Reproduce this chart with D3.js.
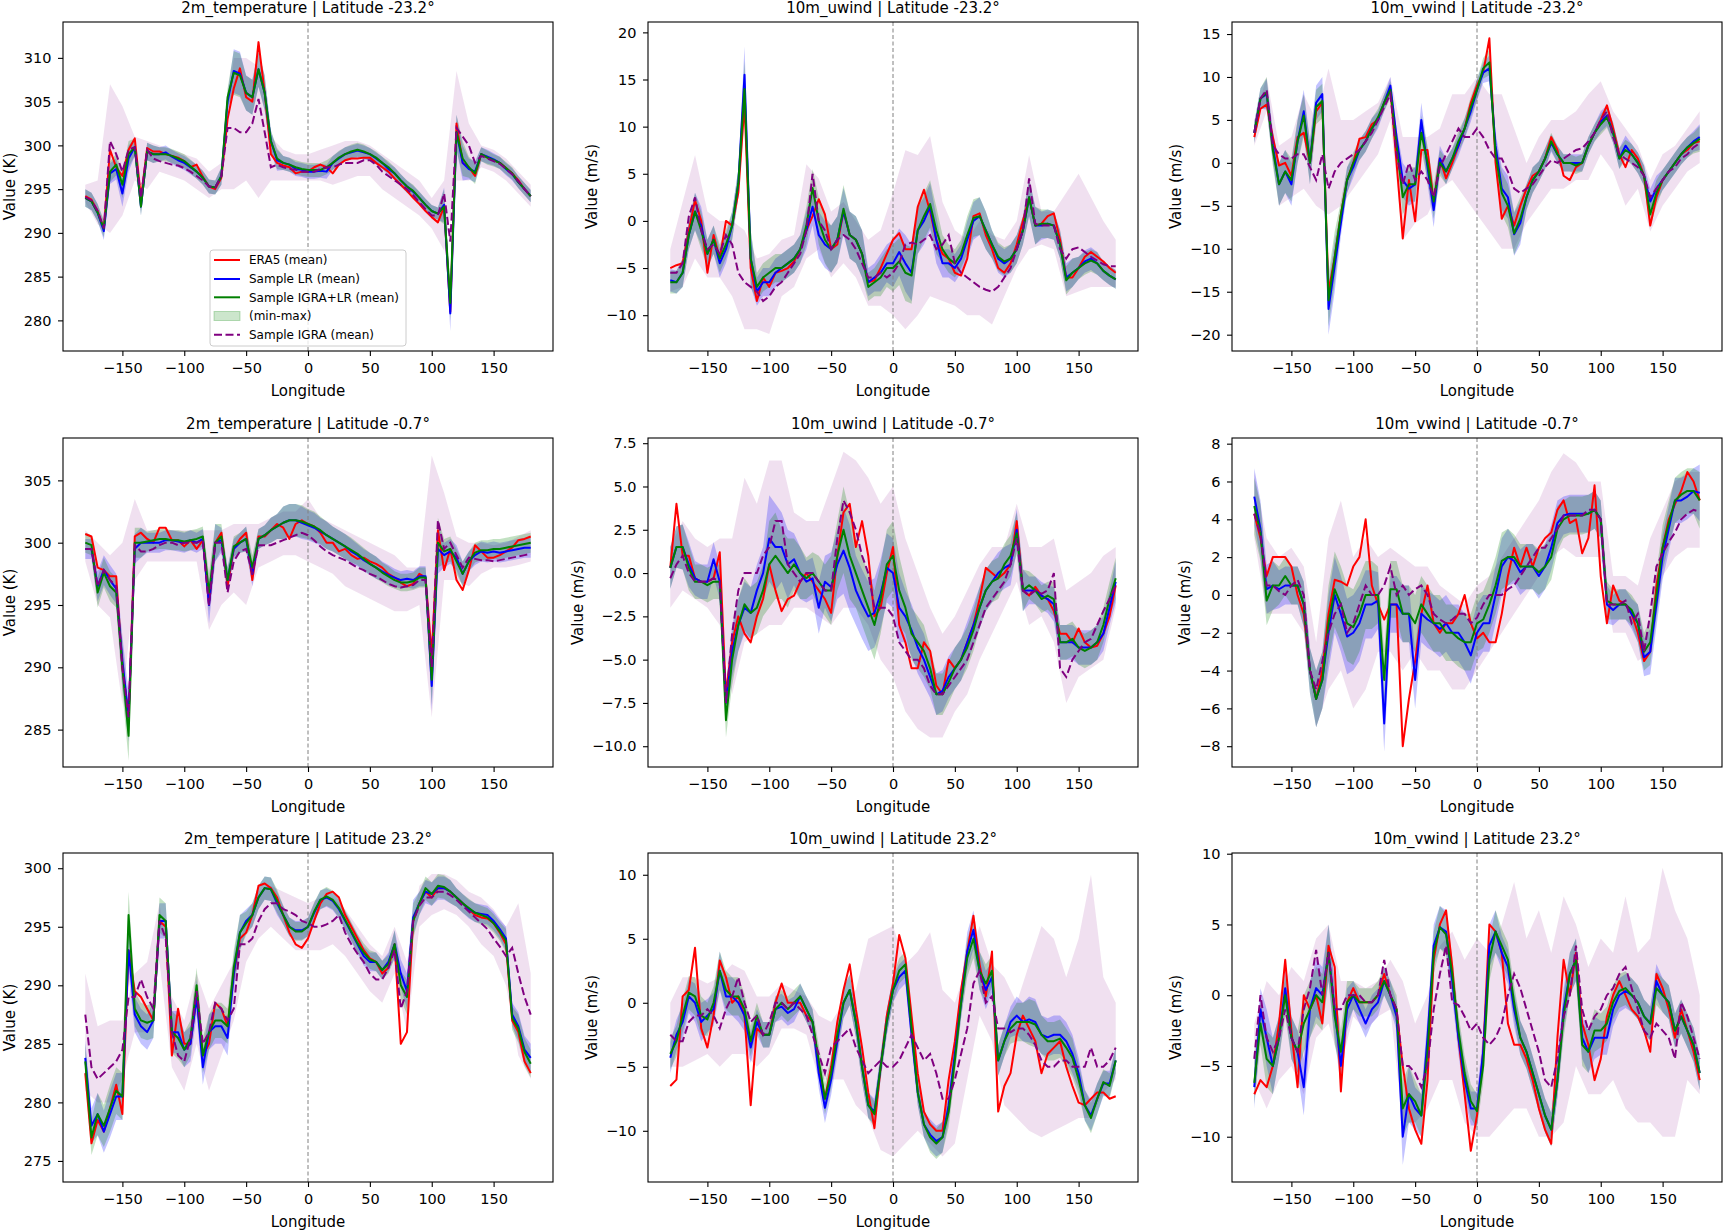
<!DOCTYPE html>
<html><head><meta charset="utf-8">
<script src="https://cdn.jsdelivr.net/npm/d3@7"></script>
<style>
body{margin:0;background:#fff}
svg{display:block}
text{font-family:"DejaVu Sans",sans-serif;fill:#000}
</style>
</head><body>
<svg id="c" width="1724" height="1232"></svg>
<script>
// ---------- categories (longitude) ----------
const LON = [-180,-175,-170,-165,-160,-155,-150,-145,-140,-135,
 -130,-125,-120,-115,-110,-105,-100,-95,-90,-85,
 -80,-75,-70,-65,-60,-55,-50,-45,-40,-35,
 -30,-25,-20,-15,-10,-5,0,5,10,15,
 20,25,30,35,40,45,50,55,60,65,
 70,75,80,85,90,95,100,105,110,115,
 120,125,130,135,140,145,150,155,160,165,
 170,175,180];
const LON10 = [-180,-170,-160,-150,-140,-130,-120,-110,-100,-90,-80,-70,-60,-50,-40,-30,-20,-10,0,
 10,20,30,40,50,60,70,80,90,100,110,120,130,140,150,160,170,180];

// ---------- 2m_temperature | Latitude -23.2 ----------
const tS_era5 = [294.2,293.8,292.5,290.5,299.5,297.5,296.5,299.5,300.8,294,
 299.7,299.3,299.3,299,298.8,298.6,298.2,297.5,297.8,296.4,
 295.3,295,296.3,303,306.5,308.8,305.5,305,311.8,306,
 299,298,297.7,297.5,296.8,297,297,297.5,297.8,297.5,
 296.8,297.8,298.3,298.5,298.5,298.6,298.6,298,297.5,297,
 296.2,295.5,294.8,294,293.3,292.5,291.8,291.2,293,281,
 302.5,298,297.5,296.5,299,298.6,298.3,298,297.4,296.8,
 296,295,294.2];
const tS_lr = [294,293.6,292.3,290.2,296.8,297.3,294.5,298.5,299.8,293,
 299.3,299,299,299.2,298.7,298.3,298,297.5,297,296.3,
 295.3,295.2,296.5,305,308.5,308.2,306,305.5,308.7,306,
 300.5,298.3,298,297.8,297.3,297.2,297,297,297.1,297,
 298,298.5,299,299.2,299.4,299.2,299,298.5,298,297.3,
 296.8,296,295.3,294.7,294,293.2,292.5,292.2,293.2,280.8,
 301.5,298,297.3,297,299,298.7,298.4,298,297.3,296.7,
 295.8,295,294.2];
const tS_mix = [294,293.6,292.3,290.5,297,297.8,295.5,299,299.8,293,
 299.3,299,299,299,298.8,298.5,298.2,297.6,297,296.3,
 295.3,295.2,296.5,305.5,308.3,308,306,305.5,308.7,306,
 300.5,298.5,298,297.8,297.5,297.3,297.2,297.2,297.2,297.5,
 298,298.6,299,299.3,299.5,299.3,299,298.6,298,297.5,
 296.8,296,295.3,294.8,294,293.2,292.5,292.2,293,282,
 301.5,298.5,297.5,296.8,299,298.6,298.3,298,297.4,296.8,
 295.8,295,294.2];
const tS_igra = [294.1,293.7,292.5,290.5,300.5,299,297,299.5,299.8,294,
 299.5,298.5,298.2,298,297.8,297.7,297.4,297,296.5,296,
 295.3,295.2,296.5,302,302,301.5,301.5,302.5,305.3,301.5,
 297.5,297.8,297.5,297.3,297.2,297,297,297,297.3,297.5,
 297.5,297.8,298,298,298,298.3,298.3,297.8,297,296.5,
 296,295.5,295,294.3,293.5,292.7,292,292,294.5,289,
 302,301,300,298,298.8,298.5,298.2,297.9,297.3,296.7,
 295.9,295,294.2];
const tS_spread = [1,1,1.2,1.5,1,1,0.8,0.8,0.8,0.8,0.8,1,2.5,2,2,1.2,0.8,0.8,0.8,0.8,0.8,0.8,0.8,0.7,0.7,0.7,0.7,0.7,0.7,2,2,1.2,0.8,0.7,0.7,0.7,0.7];
const tS_igLo = [293.5,291,290,292,296,295,297,296.5,296,295,294,295,295,296,294,296,296,296,296,296,295.5,296,296.5,296.5,295,294,293,292,290.5,288,296,296,297.5,297,296,294.5,293];
const tS_igHi = [295.5,296,307,304.5,301,300.5,300,299.5,299,298.5,297,298,310,310,309,301,299.5,299,299,299.5,300,300.5,300.5,300,299,298,297,296,294,296,308.5,302.5,300,299.5,298.5,297,295.5];

// ---------- 10m_uwind | Latitude -23.2 ----------
const uS_era5 = [-5,-4.7,-4.5,-1,2.2,0,-5.5,-1.5,-4,0,
 -0.5,3,12.5,-5,-8.5,-6,-7,-5.5,-5.3,-5,
 -4.3,-3,-1,0.5,2.3,0.7,-3,-2.5,1,-1.5,
 -2,-3.5,-6.5,-6.3,-5,-3.5,-2,-1.3,-3,-3,
 1.5,3.3,1,-2,-3.5,-4,-5.5,-5.8,-4,0.5,
 0.8,-1.5,-3,-5,-5.5,-4.5,-2.5,0,2.5,-0.5,
 -0.3,0.5,0.8,-2,-6,-6,-5,-3.8,-3.3,-3.8,
 -4.3,-5,-5.5];
const uS_lr = [-6.3,-6.5,-5.5,-1.5,1,-0.5,-3.5,-2,-4.5,-3,
 -0.5,4,15.5,-4,-7.5,-6.5,-6.5,-5.5,-5,-4.5,
 -4,-3,-1,1.5,-1.5,-2.5,-3,-2,1,-1.5,
 -2,-3.5,-6.5,-6,-5.5,-4.5,-4.5,-3.3,-4.5,-5.5,
 -1,0,1.5,-2,-4.5,-4.5,-5,-4,-2,0,
 0.5,-1,-2.5,-4,-4.5,-4,-3,-1,2.5,-0.5,
 -0.5,-0.3,-0.5,-2.5,-6,-5.5,-5,-4.3,-4,-4.5,
 -5.3,-5.8,-6.2];
const uS_mix = [-6.5,-6.5,-5.5,-1.5,1,-1,-3.5,-2,-4,-2.5,
 -0.5,4,14,-4,-7,-6,-5.5,-5,-5,-4.5,
 -4,-3,-0.5,3.5,0,-2,-3,-2,1.3,-1.5,
 -2,-3.5,-7,-6.5,-6,-5,-5,-4.3,-5.5,-5.8,
 -1,0.5,1.8,-1,-3,-4,-4.5,-3.5,-1.5,0.3,
 0.5,-1,-2.5,-3.8,-4.3,-4,-3,-1,2.5,-0.5,
 -0.3,-0.3,-0.5,-2.5,-6.3,-5.5,-5,-4.5,-4.2,-4.5,
 -5.3,-5.8,-6.2];
const uS_igra = [-5.5,-5.5,-4.5,0.5,2.5,-1,-3,-2.5,-3.5,-1.5,
 -2.5,-5.5,-6.5,-7,-7.5,-8.5,-8,-7,-6.5,-5.5,
 -4.5,-3.5,-1,5,0,-1,-3,-2,-1.5,-2,
 -3,-4.5,-6,-6,-5.5,-6,-5.5,-4.5,-2.5,-2.3,
 -2.5,-2,-1.5,-3,-2.5,-1.5,-4.5,-5.5,-6,-6.5,
 -7,-7.3,-7.5,-7,-6,-5,-3,-1,4.5,-0.3,
 -0.5,-0.5,-0.5,-3,-4,-3,-2.8,-3.3,-3.8,-4.2,
 -4.6,-4.8,-4.8];
const uS_spread = [1.2,1.5,2,1.5,1.5,1.5,3,1.5,1.5,1.5,1.5,2,2.5,2.5,2.5,2.5,1.5,2,2.5,3,2.5,2.5,1.5,1.5,2,2,1.5,1.5,1.5,2,1.5,1.5,1.5,1.2,1.2,1,1];
const uS_igLo = [-7.5,-7,-4,-6,-6,-8,-11.5,-11.5,-12,-8,-7,-4,-3,-6,-4.5,-6,-9,-9,-10,-11.5,-10,-8,-8.5,-9,-10,-10,-11,-8,-5,-3,-2.5,-3,-8,-7.5,-7,-7,-7];
const uS_igHi = [-3,2,7,1,0,0,-1,-4,-3.5,-2,-1.5,6,4.5,1,2,0,-2,-1,3,7.5,7,9,2,-1,-2,0,-1.5,-2,0,7,1,1,3,5,2.5,0,-2];

// ---------- 10m_vwind | Latitude -23.2 ----------
const vS_era5 = [3,6.3,6.8,3,-0.3,0,-1.5,3,3.5,0,
 6,7,-15,-11,-6,-2,0,2.8,3,4.5,
 5,7,8.5,0,-8.8,-2,-6.8,1.5,1.5,-4.5,
 0.5,-1.8,0,2,4,7,9,10.5,14.5,0,
 -6.5,-5,-7.3,-5,-3,-1.5,-1,0.5,3,1.5,
 -1.5,-2,-0.5,0,2,3.5,5,6.7,4,1,
 -0.5,1.5,0.5,-1.5,-7.3,-4,-2,-1,0,1,
 1.5,2.3,2.5];
const vS_lr = [3.5,7.5,8,2,-2.5,-1,-2.5,2.5,6,0,
 7,8,-17,-12,-7,-2,-0.5,1.5,2.5,4,
 5,7,9,3,-2,-3,-2.5,5,-0.5,-5.5,
 0.5,-1,0.5,2,4,6,8.5,10.5,11,2,
 -3,-4,-8.3,-7,-4,-2,-1,0.5,2.3,1,
 0,0,0,0,2,3.5,4.8,5.5,3.5,0.5,
 2,1,0,-1.5,-4.5,-3,-2,-1,0,1,
 1.8,2.5,3];
const vS_mix = [3.5,7.5,8.2,1.5,-2.5,-1,-2,2.5,5.5,0,
 6.5,7.2,-16,-11,-6,-2,0,1.5,2.5,4,
 5.3,7,8.5,2,-4,-2.5,-2.5,3.5,0,-4.5,
 0,-1,0.5,2.5,4,6.5,8.5,11,11.7,1,
 -3.5,-5,-8.2,-6.5,-4,-2,-1,0.5,2.5,1,
 0,0,-0.3,0,2,3.5,4.5,5.3,3.5,0.5,
 1.5,1,0,-1.5,-6,-3.5,-2,-1,0,1,
 1.8,2.3,2.8];
const vS_igra = [3.5,7.5,8.5,2,1,0.5,0.5,1,1,-0.5,
 -2,1,-3,-1,0,0.5,1,1.5,2.5,3.5,
 5,6.5,8,1,-2.5,0,-2,-1,-2,-4,
 -0.5,1,2.5,4,3,3,4,3,1.5,0.5,
 0.5,-1,-3,-3.5,-3,-2.5,-1.5,-0.5,0.3,0,
 0.5,1,1.5,1.7,2.5,3.5,5,6,3,1,
 0.5,0,-0.5,-1.5,-4,-3,-2,-1,-0.5,0.5,
 1,1.8,2.3];
const vS_spread = [1.2,1.8,2.5,2.5,2.5,2,3,1.5,1.2,1.2,1,1,2,2,2,1.5,1.2,1.2,1.2,1.5,2.5,2.5,1.5,1.2,1,1,1,1,1.2,1.2,1.2,1.2,1.5,1.2,1.2,1.2,1.5];
const vS_igLo = [2,6,-5,-4,-3,-5,-6,-5,-3,-1,1,5,-9,-7,-6,-3,-2,-4,-6,-8,-10,-10,-7,-5,-3,-3,-2,-2,1,-1,-5,-3,-8,-5,-3,-1,0];
const vS_igHi = [5,10,2,3,8,5,11,5,5,6,7,10,3,3,3,4,8,8,10,8,8,4,0,3,5,5,6,8,9.5,6,4,2,-2,1,2,4,6];

// ---------- 2m_temperature | Latitude -0.7 ----------
const tE_era5 = [300.7,300.5,298,297.8,297.3,297.3,290,286,300.5,300.8,
 300.3,300,301.2,301.2,300.2,300.2,299.7,300.2,299.5,300.2,
 295,300,300.8,296.5,299.5,300.3,300.8,297,300.5,300.5,
 301,301.5,301.2,300.3,301.5,301.8,301.5,301.3,300.8,300,
 300,299.3,299.5,299,298.7,298.8,298.5,298.3,298,297.5,
 297.2,296.8,296.5,296.7,297.5,297.2,291,301,297.8,299.5,
 297,296.2,297.8,299.8,299.3,298.8,298.8,299,299.3,299.6,
 300.2,300.3,300.5];
const tE_lr = [299.5,299.5,296.5,297.8,297,296.3,290.5,286,299.5,300,
 300,300,300,300.2,300.2,300.1,300,300.2,300,300.3,
 295,300,300.2,297,299.5,300,300.3,297.5,300.3,300.6,
 301,301.3,301.6,301.8,301.8,301.6,301.4,301.2,300.9,300.6,
 300.3,300,299.7,299.3,299,298.6,298.3,298,297.7,297.4,
 297.2,297,297.1,297,297.3,297.3,288.5,299.5,299,299.3,
 298.8,297.5,298.5,299,299.3,299.2,299.3,299.2,299.3,299.4,
 299.5,299.6,299.6];
const tE_mix = [300,299.8,296,297.6,296.5,296,290,284.5,300,300,
 300.1,300.2,300.3,300.3,300.2,300.2,300.1,300.2,300.3,300.5,
 296,300,300.5,297,299.7,300,300.3,298,300.3,300.6,
 301,301.3,301.6,301.8,301.8,301.7,301.5,301.3,301,300.6,
 300.3,300,299.7,299.4,299.1,298.7,298.3,298,297.6,297.3,
 297,296.8,296.8,296.9,297.2,297.2,289,300,299.3,299.5,
 298.5,297.5,298.5,299.2,299.4,299.4,299.5,299.5,299.6,299.7,
 299.8,299.9,300];
const tE_igra = [299.5,299.5,296.5,297.8,297,296.5,290,286,299.8,299.3,
 299.3,299.5,299.8,300,300,299.8,300,300,300,300.2,
 295,300,300,296,298.5,299.3,299.5,297.5,299.8,299.8,
 299.8,300,300.2,300.4,300.6,300.8,300.6,300.2,299.7,299.3,
 299,298.8,298.6,298.3,298,297.8,297.5,297.3,297,296.7,
 296.5,296.4,296.5,296.6,297,297,290,301.8,299.5,300,
 299,298,298.8,298.7,298.6,298.6,298.5,298.6,298.7,298.8,
 298.9,299,299.1];
const tE_spread = [0.8,1.2,1.2,2,1.2,0.8,0.8,0.8,0.8,0.8,1.5,1,0.8,1,0.8,1,1.3,1.3,1.2,1.1,1,1,0.9,0.9,0.8,0.7,0.7,0.8,2,1,1,0.8,0.8,0.8,0.8,0.8,0.8];
const tE_igLo = [298.5,295,294,287,297,298.5,298.5,298.5,298.5,298.5,293,295,296,295,298,298.5,299,299,298.5,298,297.5,296.5,296,295.5,295,294.5,294.5,295,286,297,297,296.5,297.5,298,298,298.2,298.5];
const tE_igHi = [301,300,299,300,303.5,301,301,301,301,301,301,301,301.5,301.5,301.5,302,302.5,302.5,303.5,302,301.5,301,300.5,300,299.5,299,298,298,307,304,300.5,300,300,299.8,300,300.5,301];

// ---------- 10m_uwind | Latitude -0.7 ----------
const uE_era5 = [0.3,4,1,1,-0.3,-0.5,-0.5,-0.3,1.2,-7,
 -4,-2.5,-3.5,-4,-2.5,-1.5,0.5,-1,-2.2,-1.5,
 -1.3,-0.5,0,-0.5,-1,-1.5,-2.3,1,3.5,4,
 1.5,3,1,-2.5,-2,0,1.5,-3,-4,-5.5,
 -5.5,-4,-4.5,-6.5,-7,-5,-5.5,-5,-4,-3,
 -1.5,0.3,0,-0.3,0,0.5,3,-1,-1.3,-0.8,
 -1.3,-1.5,-2.2,-3.5,-3.5,-4,-3.2,-4,-4.3,-4.2,
 -3.5,-2.5,-0.7];
const uE_lr = [0.3,1.5,1.5,0.5,-0.3,-0.5,-0.5,0.8,-0.5,-7.5,
 -4.5,-3,-2,-2.3,-1,0,2,1.5,1.5,0.5,
 0.8,0,-0.5,-0.3,-2,-0.5,-0.8,0.5,1.3,0.3,
 -1,-1.8,-2.5,-2.3,-1.2,0.3,0,-2,-2.5,-3.3,
 -4.3,-5,-6,-7,-6.8,-6,-5.5,-5,-4,-3,
 -2,-1,-0.5,0,0.3,0.5,2.5,-1,-1,-1,
 -1.3,-1.5,-1.8,-4,-4,-4,-4.3,-4.3,-4.3,-4,
 -3.5,-2,-0.5];
const uE_mix = [0.3,1.5,1.5,0.3,-0.5,-0.5,-0.7,-0.5,-0.5,-8.5,
 -5,-3,-1.8,-2.3,-2,-1,0.5,1,0.5,0,
 0.5,0,-0.3,0,-0.5,-1,-1,1,2.5,1,
 0,-1,-2,-3,-1.5,0.5,1,-1,-2,-3.5,
 -4,-4.5,-5.5,-7,-7,-6.3,-5.5,-5,-4.3,-3.3,
 -2,-1,-0.5,-0.3,0.5,1,2.3,-1,-0.7,-1,
 -1.5,-1.3,-1.5,-4,-4,-3.8,-4.3,-4.5,-4.3,-4,
 -3,-1.5,-0.3];
const uE_igra = [-0.3,0.5,1,0,-0.5,-0.5,-0.5,-0.3,-0.5,-7.5,
 -3.5,-1,0,0,0,1,1.5,3,3,0.5,
 0,-0.5,0,0,-0.5,-1,-1,2,4.2,3.5,
 2.5,1,0,-2,-2,-2,-2.5,-4,-4.5,-5,
 -5,-5.5,-6.5,-7,-7,-6.5,-6,-5.5,-5,-4,
 -3,-2,-1.5,-1,-0.5,0.5,2,-1,-1.3,-1,
 -1.2,-1,0,-5.5,-6,-5,-4.5,-4,-3.8,-3,
 -2.2,-1.5,-0.7];
const uE_spread = [1.2,1.3,1,1,1,1.5,1.5,1.5,2.5,2,1.5,1.2,1.5,2,2.5,2,2,2,2,1.5,1.5,1.2,1.2,1.2,1.2,1.2,1.2,1.2,1.2,0.8,0.8,1,1,1,1,1,1.2];
const uE_igLo = [-2,-1,-1.5,-2,-3,-7,-4,-3.5,-3,-3,-2,-2,-2.5,-3,-2,-2,-3,-5,-6,-8,-9,-9.5,-9.5,-8,-7,-5,-3.5,-2,-0.5,-3,-2.5,-4,-7.5,-6,-5.5,-5,-2];
const uE_igHi = [1.5,3,2,1.5,2,2,5.5,4,6.5,6.5,3.5,3,3,5,7,6.5,5.5,4,5,2,0,-2,-3.5,-2.5,-1,0.5,1.5,1.5,4,1.5,1.5,2,-1,-0.5,0,1,1.5];

// ---------- 10m_vwind | Latitude -0.7 ----------
const vE_era5 = [4.3,3,1,2,2,2,1.5,0,-1,-4,
 -5.5,-4,-1,0.8,0.7,0.5,1.5,2,4,0.5,
 -0.5,-1.3,-0.5,-0.5,-8,-5.5,-3.5,-1,0.5,-1.5,
 -2,-1.5,-1.5,-1,0,-1.5,-2.3,-2,-2.5,-2.5,
 -1,1,2.5,1.5,2.5,1.5,2.5,3,3.3,4.5,
 5,3.8,4,2.2,3,5.8,1,-1.5,0.5,-0.3,
 -0.5,-1,-2,-3.5,-3,0.5,2.5,4,4.8,5.5,
 6.5,6,5];
const vE_lr = [5.2,3.5,0.3,0.5,0.3,0.5,0.5,0.5,-0.5,-4,
 -5.5,-4.5,-2,0,-1,-2.2,-2,-1.5,-0.5,-0.5,
 -0.3,-6.8,-0.5,-0.5,-1,-1,-4.5,-1,-1.3,-1.5,
 -1.8,-1.5,-2,-2,-2.5,-3.2,-2,-1.5,-1.5,0,
 1.5,2,1.8,1.2,1.5,1.5,1,1.5,2.5,3.8,
 4.2,4.3,4.3,4.3,4.3,4.5,4,-0.5,-0.8,-0.5,
 -0.5,-1,-1.5,-3.3,-3,-0.5,2,3.5,5,5,
 5.2,5.5,5.4];
const vE_mix = [4.7,3.3,-0.3,0.5,0.5,1,0.5,0.5,-0.5,-4,
 -5.5,-4.5,-1.5,0.3,-0.5,-1.5,-1.7,-1,0,0,
 0,-4.5,0.3,0.3,-1,-1,-1.5,-0.5,-1,-1.5,
 -1.5,-2,-2,-2.3,-2.5,-2.5,-1.5,-1.3,-0.5,0.5,
 1.8,2,2,1.5,1.5,1.5,1.2,1.5,2,3.5,
 4,4.2,4.2,4.2,4.3,4.5,4,-0.3,-0.5,-0.5,
 -0.5,-0.8,-1.5,-3,-2.5,0,2.5,3.8,5,5.3,
 5.5,5.5,5];
const vE_igra = [4.3,3.2,0.5,0.5,0.2,0,0.5,0.8,0,-4,
 -5,-3.5,-2,-1,-0.5,-2,-1.5,-0.5,0.5,0,
 0,0.5,1.5,0,0.5,0,0.3,0.5,0,-1,
 -1.3,-1.5,-1.3,-1,-1,-1.5,-1.2,-0.5,0,0,
 0,0.3,0.5,1,1.5,2,2.5,2.5,3,3.5,
 4.2,4.2,4.2,4.2,4.5,4.5,4,-0.5,-0.5,-0.5,
 -0.3,-1.5,-1,-3,-1,1.5,2.2,2.8,3.3,4,
 4.3,4.5,4.4];
const vE_spread = [1.5,1.3,1,1,1.2,1.5,2,2,2,1.8,1.5,1.5,1.5,1.5,1.5,1.5,1.5,1.5,1.5,1.5,1.5,1.2,1.2,1.2,1.2,1,1,1,1,0.8,0.8,1,1.2,1.2,1.2,1.2,1.5];
const vE_igLo = [3,-1,-1,-1,-2,-7,-5,-4,-6,-5,-3,-3,-4,-3,-4,-4,-5,-5,-4,-3,-2,-1,0,1,2,2.5,2,2,2,-2,-2,-3.5,-3,1,2,2.5,2.5];
const vE_igHi = [6.5,3,2,2.5,1.5,-2.5,3,5,2,3,2,2.5,2,1.5,1.5,0.5,0,-0.5,0.5,1,2,3,4,5,6.5,7.5,7,6,6,1,1,0.5,3,4.5,6,6.5,6.5];

// ---------- 2m_temperature | Latitude 23.2 ----------
const tN_era5 = [282.5,276.5,278.5,277.5,279.5,281.5,279,293,289.5,289,
 288,287,295.5,295,284,288,285,285,289,284,
 285,288.5,288,286.5,291,294,294.5,296,298.5,298.7,
 298.3,297.5,296,294.5,293.5,293.2,294,295.5,297,297.8,
 298,297.5,296,295,294,293,292.3,292,291,291.5,
 293.5,285,286,295.5,297,298,297.5,298.3,298.3,298,
 297.5,297,296.5,296,295.8,295.7,295.3,294.5,293.5,287,
 286,283.5,282.5];
const tN_lr = [283.8,278,279,277.5,279,280.5,280.5,293,287.5,286.5,
 286,287,295.5,295.5,286,286,284.5,285,289,283,
 286,286.5,286.5,285.5,291,294.5,295.5,296,297.5,298.3,
 298.2,297,296,295,294.7,294.7,295,296.2,297.3,297.5,
 297.2,296.5,295.5,294.5,293.5,292.5,292,292,291.3,292,
 293.5,291,289.5,295.8,297,298,297.8,298.3,298.3,298,
 297.5,297,296.5,296.2,296.1,296,295.5,294.8,294,287.5,
 286.5,284.5,283.8];
const tN_mix = [283.5,277,279,278,279.5,281,280.5,296,288,287,
 286.8,287,296,295.5,286,285.5,284.5,285.5,290,284,
 286,287,287,286.5,291.5,294.5,295.3,296,297.5,298.3,
 298.2,297.2,296,295,294.6,294.6,295,296.3,297.3,297.6,
 297.3,296.6,295.6,294.6,293.6,292.8,292.2,292,291.3,291.8,
 293.5,290,289,295.5,297,298.3,297.8,298.5,298.4,298,
 297.5,297,296.6,296.2,296,295.8,295.3,294.6,293.8,287.2,
 286.3,284.3,283.3];
const tN_igra = [287.5,283,282,282.5,283,283.5,284.5,289,289,290.5,
 289,288,295.5,294,286,284,283.5,285.5,289.5,285,
 286,288.5,288,287,288,293.5,293.5,294,295.5,296.5,
 297,297,296.5,296.3,296,295.5,295.3,295,295,295.2,
 295.5,296,294.5,293.5,292.7,292,291,290.5,290.5,291.5,
 293,288,289.5,295.5,296.8,297.5,297.5,298,298,297.7,
 297.3,296.8,296.3,295.8,295.3,294.8,294,293.3,292.5,293.2,
 291,289,287.5];
const tN_spread = [1.5,1.8,2,2,1.5,1.5,1.5,1.8,1.5,1.5,1.5,1.5,1.5,1,1,1,0.8,0.8,0.8,0.8,0.8,0.8,0.8,0.8,0.8,1.2,1.5,1,1,1,0.8,0.8,0.8,0.8,1,1.2,1.2];
const tN_igLo = [281,280,280,282,286,286,292,283,281,285,281,284,287,292,294,295,294,293,293,293,293.5,292.5,291,289.5,288.5,291,286,295,296,296.5,296,295,293.5,292.5,290,284,282];
const tN_igHi = [291,286.5,287,287,291,292,297,289,287,291,288,290,292,295.5,298,298.5,298,297.5,297,297.5,297.5,296.5,295,293.5,292.5,295,292,298.5,299.5,299.5,299,298,297.5,296.5,295,297,291];

// ---------- 10m_uwind | Latitude 23.2 ----------
const uN_era5 = [-6.5,-6,0.5,1,4.3,-2,-3.5,-1,3.3,2,
 0,0.5,-1,-8,-2,-2.5,-2.5,0,1.5,0,
 0,0,-1,-1.5,-5,-7.5,-5,-1.5,1,3,
 -0.5,-3.5,-7,-9.8,-5,-1,1.5,5.3,3.5,-1,
 -5.5,-8.5,-9.5,-10,-10,-6,-3,1,4,6.8,
 3,0.5,4,-8.5,-6.5,-5.5,-2.5,-1,-2,-3,
 -5.5,-4,-3.5,-3,-5,-6.5,-7.8,-8,-7.5,-7,
 -7,-7.5,-7.3];
const uN_lr = [-4.3,-2.5,-1.5,0.5,0,-1.5,-1,-0.5,2.5,0.5,
 0.5,0,-1,-3.5,-1.5,-2.5,-2.5,-0.5,-0.3,-0.8,
 -0.5,0.5,-0.5,-1.5,-5.5,-8.2,-6,-3,0,1,
 -1.5,-5,-8,-8.5,-5,-1.5,1,2,2.5,-2.5,
 -7,-9.5,-10.3,-10.8,-10.5,-8,-4,0,4,5.7,
 2.5,1,2,-4.5,-3,-1.5,-1,-1.5,-1.3,-1.5,
 -2.5,-2.7,-2.5,-2.5,-3,-4,-5.5,-8,-8.8,-7.5,
 -6.3,-6.3,-4.5];
const uN_mix = [-4,-3,-1,0.8,0.5,-1,-1.3,0,2.5,1,
 0.5,0.5,-0.5,-3,-1,-2.5,-2.5,-0.5,0,-0.5,
 0,0.5,-0.5,-1.5,-4.5,-7.5,-5.5,-2.5,0,1,
 -1.5,-5,-8,-8.7,-5,-1.5,1,2.5,3,-2,
 -7,-9.5,-10.5,-11,-10.5,-8.5,-4.5,0,3.5,5,
 2.5,1.5,2.5,-4.5,-3,-2,-1.5,-1.5,-1.5,-1.7,
 -2.5,-3,-3,-2.8,-3.5,-4.3,-6,-8,-9,-7.5,
 -6.2,-6.5,-4.5];
const uN_igra = [-2.5,-3,-3,-1.5,-1,-1,-0.5,-1,-2,-0.5,
 0.5,2,0,-1.5,-1,-2.5,-1.5,0,0,-0.5,
 0,-0.5,-1,-2.5,-4,-5.5,-3.5,-3,-2.5,-2,
 -3.5,-4.5,-5.5,-5,-4.5,-5,-5,-4.5,-3.5,-2.5,
 -3.5,-4.5,-4,-5.5,-7.5,-7.5,-6,-4,-2,1.5,
 2.5,0,0.5,-2,-2,-2.3,-2,-2,-2.5,-3.3,
 -4.5,-5,-5,-4.5,-4.5,-5,-5,-5,-3.5,-5,
 -5,-4.5,-3.5];
const uN_spread = [1.2,1.3,1.5,1.3,1.5,1.5,1.2,1,1,1,1,1,1.2,1.2,1.2,1.2,1,1,1,1,1,1.2,1.2,1.2,1.5,1.5,1.2,1.2,1.5,1.8,1.5,1.5,1.5,1.2,1.2,1,1];
const uN_igLo = [-5,-5,-4.5,-4,-5,-4,-4,-5,-4,-2,-2,-2.5,-6,-6,-6,-8,-9,-11.5,-12,-11,-10,-11,-12,-11,-6,-1,-3,-8,-9,-10,-10.5,-10,-9.5,-9,-9,-7,-6];
const uN_igHi = [0,2,2,1.5,2,3,2.5,0.5,0.5,1.5,1,0.5,-1,-1.5,0,1,5,5.5,6,3,4,5.5,1,0,3,6,3,2,0,3,6,5,2,5,10,2,0];

// ---------- 10m_vwind | Latitude 23.2 ----------
const vN_era5 = [-7,-6,-6.5,-5,-2,2.5,-2.5,-6.5,0,-1,
 0,-2,3.5,2,-6.8,-0.5,0.5,-0.5,-0.5,-0.5,
 0,1.5,0,-1,-5,-8,-9.5,-10.5,-6,2.5,
 5,6,2,-3,-7,-11,-8.5,-4,5,4.5,
 3,-2,-3.5,-3.5,-4.5,-6,-8,-9.5,-10.5,-3,
 2.5,0,3,-2,-3.5,-6,-4.5,-1.5,0,1,
 0,-1,-1.5,-2.5,-4,1.5,0.5,-1,-3,-1,
 -2.5,-4,-6];
const vN_lr = [-6.5,-1,-3,-5,-3,0.5,-3,-4,-6.5,-1,
 0.5,0,3,-1,-5,-1,0,-1,-2,-1,
 -0.5,1,0,-1.5,-10,-7,-8,-8.5,-3,3.5,
 4.8,4.5,1,-3,-6,-8,-8,-4,3.5,4.5,
 3,2,-1,-3,-4,-5.5,-7,-8.5,-9.5,-6,
 -1,1.5,2.5,-3,-4,-3,-3,-3,-1,0,
 0.3,0,-0.5,-1.5,-2,1,0,-0.5,-2.5,-1.5,
 -2.5,-3.5,-5.5];
const vN_mix = [-6.2,-2,-4.5,-5,-3,0,-3,-4,-2,-1,
 0,-0.5,3,-1.5,-4,-0.5,0,-0.5,-0.5,-0.5,
 0,1,0,-1,-8,-7,-7.5,-8.5,-4,3,
 4.8,4.3,1.5,-2.5,-5.5,-7.5,-8.2,-5,2.5,4.5,
 3.5,2.5,-0.5,-3,-4,-5.5,-7,-8.5,-9.5,-6,
 -1.5,1.5,2.5,-3.5,-4,-2.5,-2.5,-2,-0.5,0.3,
 0.5,0,-0.5,-1.5,-2,0.5,0,-0.5,-2.5,-1.5,
 -2.5,-3.5,-5.5];
const vN_igra = [-4.5,0,-3,-4,-3,-1,-3,-4,-1,0.5,
 3.2,0,3,-1,-1,0,0,0,-0.5,-0.5,
 0,2.5,0,-1,-5,-5,-5.5,-6.5,-5,-1,
 1.5,3.5,-0.5,-0.7,-1.5,-2.5,-2,-3,-3.5,-3,
 -2,0,1.5,0.5,-1,-2.5,-4,-6,-6.5,-4.5,
 -1.5,0,3.5,-1,-2.5,-1.5,-1,0,0.5,1.5,
 2,0.5,-1,-2.5,-3,-2,-2.5,-3,-4.5,-0.5,
 -1.5,-3,-4.5];
const vN_spread = [1.5,2,1.5,1.5,2,2,2,1.5,1,1,1,1,2,1.5,1.5,1.5,1.2,1.2,1.2,1.5,1.2,1.2,1.2,1.2,1.2,1.5,1.5,1.5,1.2,1.2,1.2,1.2,1.2,1.2,1.2,1.2,1.2];
const vN_igLo = [-6,-8,-6,-5,-7,-3,-2,-5,-1.5,-2.5,-1.5,-1,-9,-9,-8,-6,-6,-9,-10,-10,-9,-8,-8,-10,-10,-9,-5,-7,-7,-6,-8,-9,-9,-10,-10,-6,-7];
const vN_igHi = [-2,1,0,2,1,4,5,1,1,0.5,1,2.5,1,-2,0,3.5,4.5,2.5,4,3,5,8,4,6,3,7,5,2,4,3,7,3,4,9,6,4,0];

// ---------- tick labels ----------
const X_TICKS = [-150,-100,-50,0,50,100,150];
const Y_TICKS = [
 [280,285,290,295,300,305,310],
 [-10,-5,0,5,10,15,20],
 [-20,-15,-10,-5,0,5,10,15],
 [285,290,295,300,305],
 [-10,-7.5,-5,-2.5,0,2.5,5,7.5],
 [-8,-6,-4,-2,0,2,4,6,8],
 [275,280,285,290,295,300],
 [-10,-5,0,5,10],
 [-10,-5,0,5,10]
];
const TITLES = [
 "2m_temperature | Latitude -23.2°","10m_uwind | Latitude -23.2°","10m_vwind | Latitude -23.2°",
 "2m_temperature | Latitude -0.7°","10m_uwind | Latitude -0.7°","10m_vwind | Latitude -0.7°",
 "2m_temperature | Latitude 23.2°","10m_uwind | Latitude 23.2°","10m_vwind | Latitude 23.2°"
];
const LEGEND_LABELS = ["ERA5 (mean)","Sample LR (mean)","Sample IGRA+LR (mean)","(min-max)","Sample IGRA (mean)"];

const DATA = [
 [tS_era5,tS_lr,tS_mix,tS_igra,tS_spread,tS_igLo,tS_igHi],
 [uS_era5,uS_lr,uS_mix,uS_igra,uS_spread,uS_igLo,uS_igHi],
 [vS_era5,vS_lr,vS_mix,vS_igra,vS_spread,vS_igLo,vS_igHi],
 [tE_era5,tE_lr,tE_mix,tE_igra,tE_spread,tE_igLo,tE_igHi],
 [uE_era5,uE_lr,uE_mix,uE_igra,uE_spread,uE_igLo,uE_igHi],
 [vE_era5,vE_lr,vE_mix,vE_igra,vE_spread,vE_igLo,vE_igHi],
 [tN_era5,tN_lr,tN_mix,tN_igra,tN_spread,tN_igLo,tN_igHi],
 [uN_era5,uN_lr,uN_mix,uN_igra,uN_spread,uN_igLo,uN_igHi],
 [vN_era5,vN_lr,vN_mix,vN_igra,vN_spread,vN_igLo,vN_igHi]
];
// axis limits (as in the reference)
const Y_LIMITS = [[276.5,314.1],[-13.8,21.1],[-21.9,16.4],[282.0,308.4],[-11.2,7.8],[-9.1,8.3],[273.2,301.3],[-14.0,11.7],[-13.2,10.05]];
const X_LIMITS = [-198,198];

// ---------- drawing ----------
const svg = d3.select("#c");
svg.append("rect").attr("width",1724).attr("height",1232).attr("fill","#fff");
const COLX=[63,648,1232], ROWY=[22,438,853], W=490, H=329;
const FS_TICK=14.5, FS_LAB=15, FS_TITLE=15;
const C_RED="#ff0000", C_BLUE="#0000ff", C_GREEN="#008000", C_PURPLE="#800080";
const fmtNum = (d, dec) => { const s = Math.abs(d).toFixed(dec); return d < 0 ? "\u2212"+s : s; };

let problems = [];
DATA.forEach((D,k)=>{
  const [era,lr,mix,ig,spread,igLo,igHi] = D;
  [era,lr,mix,ig].forEach((a,j)=>{ if(a.length!==LON.length) problems.push(`p${k} s${j} len ${a.length}`); });
  [spread,igLo,igHi].forEach((a,j)=>{ if(a.length!==LON10.length) problems.push(`p${k} b${j} len ${a.length}`); });

  const col = k%3, row = Math.floor(k/3);
  const g = svg.append("g").attr("transform",`translate(${COLX[col]},${ROWY[row]})`);
  const x = d3.scaleLinear().domain(X_LIMITS).range([0,W]);
  const y = d3.scaleLinear().domain(Y_LIMITS[k]).range([H,0]);
  const cid = "clip"+k;
  g.append("clipPath").attr("id",cid).append("rect").attr("width",W).attr("height",H);
  const plot = g.append("g").attr("clip-path",`url(#${cid})`);

  // IGRA min-max band
  const igBand = LON10.map((l,i)=>({l, lo:igLo[i], hi:igHi[i]})).filter(d=>d.lo!=null&&d.hi!=null);
  const area = d3.area().x(d=>x(d.l)).y0(d=>y(d.lo)).y1(d=>y(d.hi));
  plot.append("path").datum(igBand).attr("d",area).attr("fill",C_PURPLE).attr("fill-opacity",0.12);
  // LR and IGRA+LR min-max bands
  const band = mean => LON.map((l,i)=>{ const s = spread[Math.floor(i/2)]; return {l, lo:mean[i]-s, hi:mean[i]+s}; }).filter(d=>!isNaN(d.lo));
  plot.append("path").datum(band(lr)).attr("d",area).attr("fill",C_BLUE).attr("fill-opacity",0.24);
  plot.append("path").datum(band(mix)).attr("d",area).attr("fill",C_GREEN).attr("fill-opacity",0.24);

  // zero meridian
  plot.append("line").attr("x1",x(0)).attr("x2",x(0)).attr("y1",0).attr("y2",H)
    .attr("stroke","#808080").attr("stroke-width",1).attr("stroke-dasharray","4,2.5");

  const line = d3.line().defined(d=>d.v!=null).x(d=>x(d.l)).y(d=>y(d.v));
  const series = a => LON.map((l,i)=>({l, v:a[i]}));
  plot.append("path").datum(series(era)).attr("d",line).attr("fill","none").attr("stroke",C_RED).attr("stroke-width",2).attr("stroke-linejoin","round");
  plot.append("path").datum(series(lr)).attr("d",line).attr("fill","none").attr("stroke",C_BLUE).attr("stroke-width",2).attr("stroke-linejoin","round");
  plot.append("path").datum(series(mix)).attr("d",line).attr("fill","none").attr("stroke",C_GREEN).attr("stroke-width",2).attr("stroke-linejoin","round");
  plot.append("path").datum(series(ig)).attr("d",line).attr("fill","none").attr("stroke",C_PURPLE).attr("stroke-width",2).attr("stroke-dasharray","8,3.5");

  // axes
  const dec = Y_TICKS[k].some(v=>v%1!==0) ? 1 : 0;
  const xa = g.append("g").attr("transform",`translate(0,${H})`)
    .call(d3.axisBottom(x).tickValues(X_TICKS).tickSize(5).tickPadding(7).tickFormat(d=>fmtNum(d,0)));
  const ya = g.append("g")
    .call(d3.axisLeft(y).tickValues(Y_TICKS[k]).tickSize(5).tickPadding(6.5).tickFormat(d=>fmtNum(d,dec)));
  [xa,ya].forEach(a=>{
    a.select(".domain").remove();
    a.selectAll("line").attr("stroke","#000").attr("stroke-width",1.1);
    a.selectAll("text").attr("font-family","DejaVu Sans").attr("font-size",FS_TICK).attr("fill","#000");
  });
  let maxW = 0;
  ya.selectAll("text").each(function(){ maxW = Math.max(maxW, this.getComputedTextLength()); });

  // frame
  g.append("rect").attr("width",W).attr("height",H).attr("fill","none").attr("stroke","#000").attr("stroke-width",1.1);

  // labels
  g.append("text").attr("x",W/2).attr("y",-9).attr("text-anchor","middle").attr("font-size",FS_TITLE).text(TITLES[k]);
  g.append("text").attr("x",W/2).attr("y",H+44.5).attr("text-anchor","middle").attr("font-size",FS_LAB).text("Longitude");
  const lx = -11.5 - maxW - 9;
  g.append("text").attr("transform",`translate(${lx},${H/2}) rotate(-90)`).attr("text-anchor","middle")
    .attr("font-size",FS_LAB).text(col===0 ? "Value (K)" : "Value (m/s)");

  // legend (first panel only)
  if(k===0){
    const lw=196, lh=96, lx0=W/2-lw/2, ly0=H-5-lh;
    const lg = g.append("g").attr("transform",`translate(${lx0},${ly0})`);
    lg.append("rect").attr("width",lw).attr("height",lh).attr("rx",3).attr("fill","#fff").attr("fill-opacity",0.8)
      .attr("stroke","#cccccc").attr("stroke-width",1);
    const rowsY = [10,29,47.3,66,84.7];
    const kinds = [[C_RED,null],[C_BLUE,null],[C_GREEN,null],["patch",null],[C_PURPLE,"8,3.5"]];
    kinds.forEach((kd,i)=>{
      const yy = rowsY[i];
      if(kd[0]==="patch"){
        lg.append("rect").attr("x",4).attr("y",yy-4.5).attr("width",26).attr("height",9)
          .attr("fill",C_GREEN).attr("fill-opacity",0.2).attr("stroke",C_GREEN).attr("stroke-opacity",0.25);
      } else {
        lg.append("line").attr("x1",4).attr("x2",30).attr("y1",yy).attr("y2",yy)
          .attr("stroke",kd[0]).attr("stroke-width",2).attr("stroke-dasharray",kd[1]);
      }
      lg.append("text").attr("x",39).attr("y",yy).attr("dy","0.35em").attr("font-size",12).text(LEGEND_LABELS[i]);
    });
  }
});
if(problems.length){ svg.append("text").attr("x",10).attr("y",1225).attr("fill","red").attr("font-size",12).text(problems.join("; ")); }
</script>
</body></html>
